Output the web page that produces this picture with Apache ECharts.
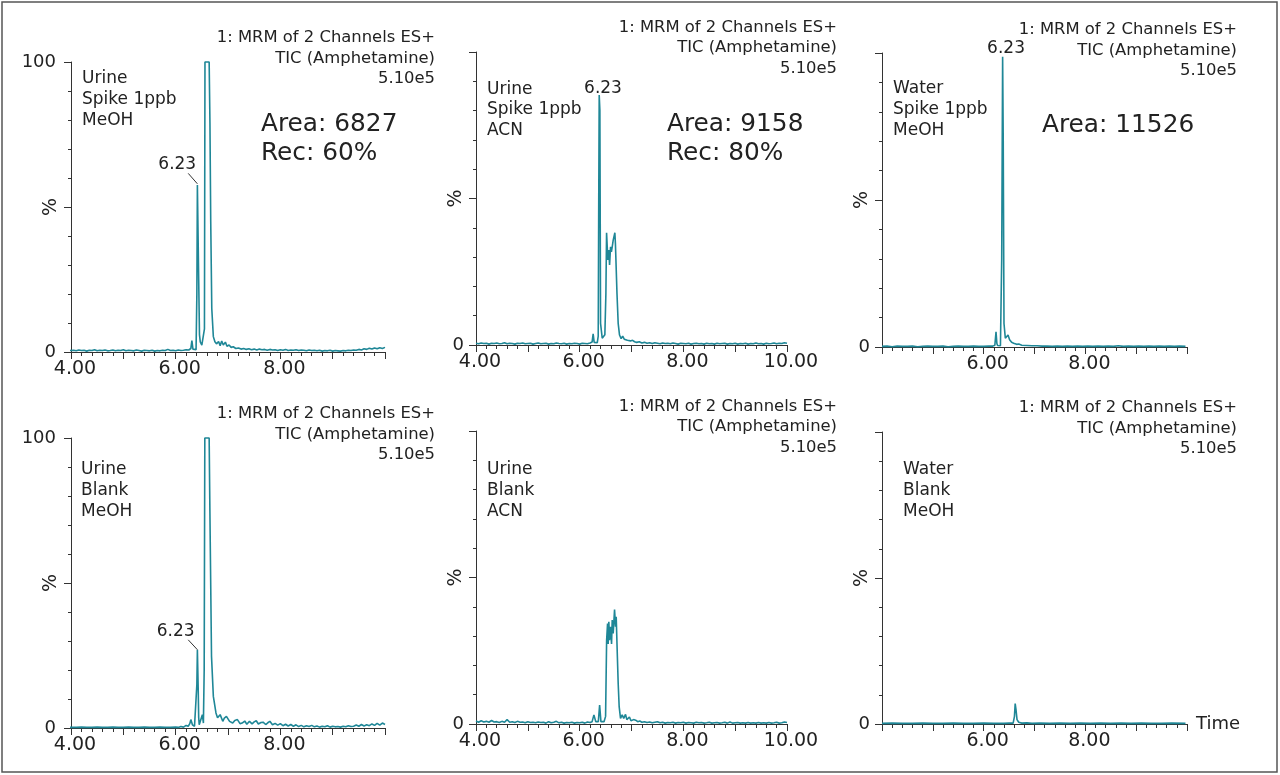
<!DOCTYPE html>
<html>
<head>
<meta charset="utf-8">
<title>Amphetamine MRM chromatograms</title>
<script src="https://cdn.jsdelivr.net/npm/echarts@6/dist/echarts.min.js"></script>
<style>
  html, body { margin: 0; padding: 0; background: #fff; }
  #chart { width: 1280px; height: 775px; }
</style>
</head>
<body>
<div id="chart"></div>
<script>
// Traces: [retention time (min), relative intensity (%)]
const urineSpikeMeOH = [
  [3.97,0.5],[4.05,0.6],[4.1,0.4],[4.15,0.7],[4.2,0.5],[4.25,0.6],[4.3,0.3],[4.35,0.6],[4.4,0.5],[4.45,0.8],
  [4.5,0.4],[4.55,0.6],[4.6,0.5],[4.65,0.7],[4.7,0.4],[4.75,0.5],[4.8,0.7],[4.85,0.4],[4.9,0.6],[4.95,0.5],
  [5.0,0.8],[5.05,0.4],[5.1,0.6],[5.15,0.5],[5.2,0.4],[5.25,0.7],[5.3,0.5],[5.35,0.3],[5.4,0.6],[5.45,0.5],
  [5.5,0.4],[5.55,0.6],[5.6,0.3],[5.65,0.5],[5.7,0.4],[5.75,0.6],[5.8,0.5],[5.85,0.9],[5.9,0.5],[5.95,0.6],
  [6.0,0.4],[6.05,0.7],[6.1,0.5],[6.15,0.6],[6.2,0.8],[6.25,0.7],[6.29,1.2],[6.31,3.9],[6.33,1.0],[6.36,0.5],
  [6.39,0.8],[6.405,20],[6.415,57.6],[6.43,57.0],[6.44,25],[6.455,6],[6.47,3.5],[6.5,2.4],[6.53,3.0],[6.55,8],
  [6.56,100],[6.64,100],[6.655,79],[6.67,45],[6.69,15],[6.72,5.3],[6.75,3.5],[6.78,2.8],[6.82,3.6],[6.85,2.2],
  [6.88,3.8],[6.91,2.4],[6.95,3.4],[6.98,2.0],[7.02,2.4],[7.06,1.6],[7.1,1.8],[7.15,1.2],[7.2,1.4],[7.25,1.0],
  [7.3,1.2],[7.35,0.9],[7.4,1.1],[7.45,0.8],[7.5,1.0],[7.55,0.7],[7.6,1.0],[7.65,0.8],[7.7,0.9],[7.75,0.6],
  [7.8,0.9],[7.85,0.7],[7.9,0.8],[7.95,0.5],[8.0,0.8],[8.05,0.6],[8.1,0.9],[8.15,0.5],[8.2,0.7],[8.25,0.6],
  [8.3,0.8],[8.35,0.5],[8.4,0.7],[8.45,0.6],[8.5,0.4],[8.55,0.7],[8.6,0.5],[8.65,0.6],[8.7,0.4],[8.75,0.6],
  [8.8,0.3],[8.85,0.5],[8.9,0.4],[8.95,0.6],[9.0,0.3],[9.05,0.5],[9.1,0.4],[9.15,0.3],[9.2,0.5],[9.25,0.4],
  [9.3,0.6],[9.35,0.5],[9.4,0.7],[9.45,0.6],[9.5,0.9],[9.55,0.7],[9.6,1.1],[9.65,0.9],[9.7,1.3],[9.75,1.0],
  [9.8,1.4],[9.85,1.1],[9.9,1.5],[9.95,1.2],[10.0,1.6]
];

const urineSpikeACN = [
  [4.0,0.6],[4.05,0.4],[4.1,0.7],[4.15,0.5],[4.2,0.6],[4.25,0.3],[4.3,0.6],[4.35,0.5],[4.4,0.7],[4.45,0.4],
  [4.5,0.5],[4.55,0.8],[4.6,0.4],[4.65,0.6],[4.7,0.5],[4.75,0.3],[4.8,0.6],[4.85,0.5],[4.9,0.7],[4.95,0.4],
  [5.0,0.5],[5.05,0.6],[5.1,0.3],[5.15,0.5],[5.2,0.7],[5.25,0.4],[5.3,0.5],[5.35,0.6],[5.4,0.3],[5.45,0.5],
  [5.5,0.4],[5.55,0.7],[5.6,0.5],[5.65,0.4],[5.7,0.6],[5.75,0.3],[5.8,0.5],[5.85,0.4],[5.9,0.6],[5.95,0.5],
  [6.0,0.3],[6.05,0.6],[6.1,0.5],[6.15,0.4],[6.2,0.7],[6.24,1.0],[6.26,3.8],[6.28,0.9],[6.31,0.5],[6.34,0.8],
  [6.358,3],[6.368,50],[6.377,85.3],[6.39,80],[6.403,7.4],[6.435,2.3],[6.486,3.5],[6.506,17.6],[6.519,38.3],[6.544,29],
  [6.563,32.4],[6.577,27.3],[6.596,33.5],[6.612,31.8],[6.628,33.5],[6.647,35.8],[6.679,38.3],[6.69,34.5],[6.72,17.6],[6.743,7.4],
  [6.769,3.4],[6.8,2.2],[6.83,3.0],[6.86,2.0],[6.89,2.6],[6.92,1.6],[6.95,2.2],[6.98,1.4],[7.02,1.6],[7.06,1.1],
  [7.1,0.9],[7.15,1.1],[7.2,0.7],[7.25,0.9],[7.3,0.6],[7.35,0.8],[7.4,0.5],[7.45,0.8],[7.5,0.6],[7.55,0.4],
  [7.6,0.7],[7.65,0.5],[7.7,0.6],[7.75,0.4],[7.8,0.7],[7.85,0.5],[7.9,0.3],[7.95,0.6],[8.0,0.5],[8.05,0.4],
  [8.1,0.6],[8.15,0.3],[8.2,0.5],[8.25,0.6],[8.3,0.4],[8.35,0.5],[8.4,0.3],[8.45,0.6],[8.5,0.4],[8.55,0.5],
  [8.6,0.3],[8.65,0.6],[8.7,0.4],[8.75,0.5],[8.8,0.6],[8.85,0.3],[8.9,0.5],[8.95,0.4],[9.0,0.6],[9.05,0.3],
  [9.1,0.5],[9.15,0.4],[9.2,0.6],[9.25,0.3],[9.3,0.5],[9.35,0.4],[9.4,0.7],[9.45,0.4],[9.5,0.5],[9.55,0.3],
  [9.6,0.6],[9.65,0.4],[9.7,0.5],[9.75,0.7],[9.8,0.4],[9.85,0.6],[9.9,0.5],[9.95,0.8],[10.0,0.6]
];

const waterSpikeMeOH = [
  [4.0,0.2],[4.1,0.3],[4.2,0.1],[4.3,0.3],[4.4,0.2],[4.5,0.2],[4.6,0.3],[4.7,0.1],[4.8,0.2],[4.9,0.3],
  [5.0,0.2],[5.1,0.2],[5.2,0.3],[5.3,0.1],[5.4,0.2],[5.5,0.3],[5.6,0.2],[5.7,0.2],[5.8,0.3],[5.9,0.2],
  [6.0,0.2],[6.1,0.3],[6.18,0.3],[6.22,0.6],[6.243,5.2],[6.26,1.2],[6.274,0.5],[6.33,0.4],[6.355,30],[6.373,98.7],
  [6.385,70],[6.40,8],[6.426,3],[6.45,2.6],[6.479,4.1],[6.51,2.5],[6.55,1.6],[6.59,1.3],[6.65,0.9],[6.69,1.0],
  [6.75,0.6],[6.85,0.5],[6.95,0.4],[7.05,0.4],[7.15,0.3],[7.25,0.3],[7.35,0.2],[7.45,0.3],[7.55,0.2],[7.65,0.3],
  [7.75,0.2],[7.85,0.3],[7.95,0.2],[8.05,0.3],[8.15,0.2],[8.25,0.3],[8.35,0.2],[8.45,0.3],[8.55,0.2],[8.65,0.4],
  [8.75,0.2],[8.85,0.3],[8.95,0.2],[9.05,0.3],[9.15,0.2],[9.25,0.3],[9.35,0.2],[9.45,0.3],[9.55,0.2],[9.65,0.3],
  [9.75,0.2],[9.85,0.3],[9.97,0.2]
];

const urineBlankMeOH = [
  [3.97,0.2],[4.1,0.2],[4.2,0.3],[4.3,0.2],[4.4,0.2],[4.5,0.3],[4.6,0.2],[4.7,0.2],[4.8,0.3],[4.9,0.2],
  [5.0,0.2],[5.1,0.3],[5.2,0.2],[5.3,0.2],[5.4,0.3],[5.5,0.2],[5.6,0.2],[5.7,0.3],[5.8,0.2],[5.9,0.2],
  [6.0,0.3],[6.05,0.2],[6.1,0.5],[6.15,0.3],[6.2,0.9],[6.24,0.6],[6.27,1.5],[6.29,2.9],[6.32,1.1],[6.36,0.6],
  [6.39,0.9],[6.405,15],[6.415,27],[6.43,14],[6.44,3.6],[6.45,1.1],[6.48,1.7],[6.51,4.6],[6.53,1.7],[6.545,20],
  [6.557,100],[6.64,100],[6.654,75],[6.685,24.7],[6.72,10.9],[6.77,5.2],[6.80,3.5],[6.85,4.6],[6.90,2.3],[6.93,3.4],
  [6.97,4.0],[7.03,2.3],[7.09,1.7],[7.13,2.6],[7.18,2.9],[7.23,1.5],[7.27,1.7],[7.32,2.4],[7.36,1.3],[7.41,2.3],
  [7.46,1.4],[7.5,2.1],[7.54,2.5],[7.58,1.4],[7.63,1.9],[7.67,2.0],[7.72,1.2],[7.76,1.8],[7.8,2.3],[7.85,1.1],
  [7.9,1.6],[7.95,1.0],[8.0,1.5],[8.05,0.8],[8.1,1.3],[8.15,0.7],[8.2,1.2],[8.25,0.6],[8.3,1.1],[8.35,0.5],
  [8.4,0.9],[8.45,0.4],[8.5,0.8],[8.55,0.5],[8.6,0.9],[8.65,0.4],[8.7,0.7],[8.75,0.3],[8.8,0.6],[8.85,0.4],
  [8.9,0.8],[8.95,0.3],[9.0,0.6],[9.05,0.4],[9.1,0.5],[9.15,0.3],[9.2,0.6],[9.25,0.4],[9.3,0.8],[9.35,0.5],
  [9.4,0.6],[9.45,1.0],[9.5,0.6],[9.55,1.2],[9.6,0.7],[9.65,1.1],[9.7,0.8],[9.75,1.4],[9.8,0.9],[9.85,1.6],
  [9.9,1.0],[9.95,1.7],[10.0,1.2]
];

const urineBlankACN = [
  [4.0,1.0],[4.05,0.6],[4.1,1.1],[4.15,0.7],[4.2,0.9],[4.25,0.6],[4.3,1.2],[4.35,0.7],[4.4,0.8],[4.45,0.5],
  [4.5,0.9],[4.55,0.6],[4.6,1.5],[4.65,0.6],[4.7,0.8],[4.75,0.5],[4.8,0.9],[4.85,0.6],[4.9,0.7],[4.95,0.4],
  [5.0,0.8],[5.05,0.5],[5.1,0.6],[5.15,0.4],[5.2,0.7],[5.25,0.5],[5.3,0.6],[5.35,0.3],[5.4,0.8],[5.45,0.4],
  [5.5,0.6],[5.55,0.9],[5.6,0.4],[5.65,0.6],[5.7,0.3],[5.75,0.5],[5.8,0.4],[5.85,0.6],[5.9,0.3],[5.95,0.5],
  [6.0,0.4],[6.05,0.6],[6.1,0.3],[6.15,0.7],[6.2,0.5],[6.24,0.8],[6.275,3.1],[6.31,0.8],[6.36,0.8],[6.385,6.5],
  [6.41,0.8],[6.47,0.8],[6.5,2.6],[6.52,28.6],[6.538,34.3],[6.55,27.3],[6.563,34.9],[6.576,28.6],[6.596,33.2],[6.615,27.3],
  [6.628,35.5],[6.647,30.9],[6.673,39.1],[6.692,33.2],[6.705,36.6],[6.724,25],[6.743,13.9],[6.762,5.9],[6.788,1.9],[6.82,3.1],
  [6.85,1.9],[6.885,3.3],[6.91,1.5],[6.96,2.4],[6.99,1.1],[7.04,1.5],[7.08,1.3],[7.12,0.8],[7.16,1.0],[7.2,0.6],
  [7.25,0.8],[7.3,0.5],[7.35,0.7],[7.4,0.4],[7.45,0.6],[7.5,0.8],[7.55,0.4],[7.6,0.6],[7.65,0.3],[7.7,0.5],
  [7.75,0.4],[7.8,0.6],[7.85,0.3],[7.9,0.5],[7.95,0.4],[8.0,0.6],[8.05,0.3],[8.1,0.5],[8.15,0.4],[8.2,0.3],
  [8.25,0.6],[8.3,0.4],[8.35,0.5],[8.4,0.3],[8.45,0.4],[8.5,0.6],[8.55,0.3],[8.6,0.4],[8.65,0.5],[8.7,0.3],
  [8.75,0.4],[8.8,0.6],[8.85,0.3],[8.9,0.7],[8.95,0.3],[9.0,0.4],[9.05,0.5],[9.1,0.3],[9.15,0.4],[9.2,0.3],
  [9.25,0.5],[9.3,0.3],[9.35,0.4],[9.4,0.3],[9.45,0.5],[9.5,0.3],[9.55,0.4],[9.6,0.3],[9.65,0.5],[9.7,0.3],
  [9.75,0.4],[9.8,0.6],[9.85,0.3],[9.9,0.4],[9.95,0.7],[10.0,0.5]
];

const waterBlankMeOH = [
  [4.0,0.2],[4.2,0.3],[4.4,0.2],[4.6,0.2],[4.8,0.3],[5.0,0.2],[5.2,0.2],[5.4,0.3],[5.6,0.2],[5.8,0.2],
  [6.0,0.3],[6.2,0.2],[6.4,0.2],[6.5,0.3],[6.58,0.3],[6.605,2.5],[6.62,7.0],[6.636,4.9],[6.656,1.5],[6.69,0.6],
  [6.75,0.3],[6.85,0.4],[6.95,0.2],[7.1,0.3],[7.3,0.2],[7.5,0.3],[7.7,0.2],[7.9,0.3],[8.1,0.2],[8.3,0.3],
  [8.5,0.2],[8.7,0.3],[8.9,0.2],[9.1,0.3],[9.3,0.2],[9.5,0.2],[9.7,0.3],[9.97,0.2]
];

// Text blocks
const channelHeader = ['1: MRM of 2 Channels ES+', 'TIC (Amphetamine)', '5.10e5'];
const sampleNames = [
  ['Urine', 'Spike 1ppb', 'MeOH'],
  ['Urine', 'Spike 1ppb', 'ACN'],
  ['Water', 'Spike 1ppb', 'MeOH'],
  ['Urine', 'Blank', 'MeOH'],
  ['Urine', 'Blank', 'ACN'],
  ['Water', 'Blank', 'MeOH']
];
const areaNotes = [
  ['Area: 6827', 'Rec: 60%'],
  ['Area: 9158', 'Rec: 80%'],
  ['Area: 11526'],
  [], [], []
];
const peakLabel = '6.23';

// Tick labels shown on each axis
const xLabelsLeft = [4, 6, 8];
const xLabelsMid = [4, 6, 8, 10];
const xLabelsRight = [6, 8];
const yLabelsFull = [0, 100];
const yLabelsZero = [0];

const FONT = '"DejaVu Sans", Verdana, sans-serif';
const TEXT = '#222';
const AXIS = '#333';
const TRACE = '#1f8797';

// Layout per panel (pixels); peak = label anchor in data units + pixel nudge
const panels = [
  { data: urineSpikeMeOH, grid: { left: 71, top: 62, width: 314, height: 290 },
    xLabels: xLabelsLeft, yLabels: yLabelsFull, yMargin: 15,
    header: [435, 27.5], names: [82, 68.5], area: [261, 110],
    peak: [6.03, 64.5], nudge: [0, 0], leader: [[6.24, 61.6], [6.415, 58.0]] },
  { data: urineSpikeACN, grid: { left: 476, top: 52, width: 311, height: 293 },
    xLabels: xLabelsMid, yLabels: yLabelsZero, yMargin: 12,
    header: [837, 17], names: [487, 79], area: [667, 110],
    peak: [6.45, 87.6], nudge: [0, 0] },
  { data: waterSpikeMeOH, grid: { left: 882, top: 53, width: 305, height: 294 },
    xLabels: xLabelsRight, yLabels: yLabelsZero, yMargin: 12,
    header: [1237, 19.5], names: [893, 78.5], area: [1042, 111],
    peak: [6.44, 97], nudge: [0, -13.5] },
  { data: urineBlankMeOH, grid: { left: 71, top: 438, width: 314, height: 290 },
    xLabels: xLabelsLeft, yLabels: yLabelsFull, yMargin: 15,
    header: [435, 403.5], names: [81, 459.5],
    peak: [6.0, 33.3], nudge: [0, 0], leader: [[6.24, 30.4], [6.415, 27.0]] },
  { data: urineBlankACN, grid: { left: 476, top: 431, width: 311, height: 293 },
    xLabels: xLabelsMid, yLabels: yLabelsZero, yMargin: 12,
    header: [837, 396], names: [487, 459.5] },
  { data: waterBlankMeOH, grid: { left: 882, top: 432, width: 305, height: 292 },
    xLabels: xLabelsRight, yLabels: yLabelsZero, yMargin: 12,
    header: [1237, 397.5], names: [903, 459.5], xName: 'Time' }
];

const grids = [], xAxes = [], yAxes = [], series = [], graphics = [];

graphics.push({
  type: 'rect', shape: { x: 2, y: 2, width: 1275, height: 770 },
  style: { fill: 'none', stroke: '#555', lineWidth: 1.5 }, silent: true
});

function textBlock(x, y, lines, size, lineHeight, align) {
  return {
    type: 'text', x, y, silent: true,
    style: {
      text: lines.join('\n'), font: size + 'px ' + FONT, fill: TEXT,
      align, textAlign: align, verticalAlign: 'top', textVerticalAlign: 'top', lineHeight
    }
  };
}

panels.forEach((p, i) => {
  grids.push(p.grid);
  xAxes.push({
    gridIndex: i, type: 'value', min: 4, max: 10, interval: 1,
    name: p.xName || '', nameLocation: 'end', nameGap: 9, nameMoveOverlap: false,
    nameTextStyle: { color: TEXT, fontSize: 18, fontFamily: FONT },
    axisLine: { show: true, onZero: false, lineStyle: { color: AXIS, width: 1 } },
    axisTick: { show: true, length: 7, lineStyle: { color: AXIS } },
    minorTick: { show: true, splitNumber: 5, length: 4, lineStyle: { color: AXIS } },
    splitLine: { show: false },
    axisLabel: {
      margin: 8, color: TEXT, fontSize: 19, fontFamily: FONT, padding: [0, 0, 0, 8],
      showMinLabel: true, showMaxLabel: true, hideOverlap: false,
      formatter: v => (p.xLabels.includes(v) ? v.toFixed(2) : '')
    }
  });
  yAxes.push({
    gridIndex: i, type: 'value', min: 0, max: 100, interval: 50,
    name: '%', nameLocation: 'middle', nameRotate: 90, nameGap: 10, nameMoveOverlap: false,
    nameTextStyle: { color: TEXT, fontSize: 19, fontFamily: FONT },
    axisLine: { show: true, lineStyle: { color: AXIS, width: 1 } },
    axisTick: { show: true, length: 7, lineStyle: { color: AXIS } },
    minorTick: { show: true, splitNumber: 5, length: 3, lineStyle: { color: AXIS } },
    splitLine: { show: false },
    axisLabel: {
      margin: p.yMargin, color: TEXT, fontSize: 18, fontFamily: FONT, padding: [6, 0, 0, 0],
      formatter: v => (p.yLabels.includes(v) ? String(v) : '')
    }
  });

  const s = {
    type: 'line', xAxisIndex: i, yAxisIndex: i, data: p.data,
    symbol: 'none', showSymbol: false, clip: false, animation: false,
    lineStyle: { color: TRACE, width: 1.6 }, itemStyle: { color: TRACE }
  };
  if (p.peak) {
    s.markPoint = {
      silent: true, animation: false, symbol: 'rect', symbolSize: 1,
      itemStyle: { color: 'rgba(0,0,0,0)' },
      label: { show: true, position: 'inside', offset: p.nudge, color: TEXT, fontSize: 17, fontFamily: FONT, formatter: peakLabel },
      data: [{ coord: p.peak }]
    };
  }
  if (p.leader) {
    s.markLine = {
      silent: true, animation: false, symbol: ['none', 'none'],
      lineStyle: { color: AXIS, width: 1, type: 'solid' },
      label: { show: false },
      data: [[{ coord: p.leader[0] }, { coord: p.leader[1] }]]
    };
  }
  series.push(s);

  graphics.push(textBlock(p.header[0], p.header[1], channelHeader, 16.4, 20.5, 'right'));
  graphics.push(textBlock(p.names[0], p.names[1], sampleNames[i], 17, 20.7, 'left'));
  if (p.area && areaNotes[i].length) {
    graphics.push(textBlock(p.area[0], p.area[1], areaNotes[i], 24.8, 29, 'left'));
  }
});

const chart = echarts.init(document.getElementById('chart'), null, { renderer: 'canvas' });
chart.setOption({
  backgroundColor: '#fff',
  animation: false,
  grid: grids,
  xAxis: xAxes,
  yAxis: yAxes,
  series,
  graphic: graphics
});
</script>
</body>
</html>
